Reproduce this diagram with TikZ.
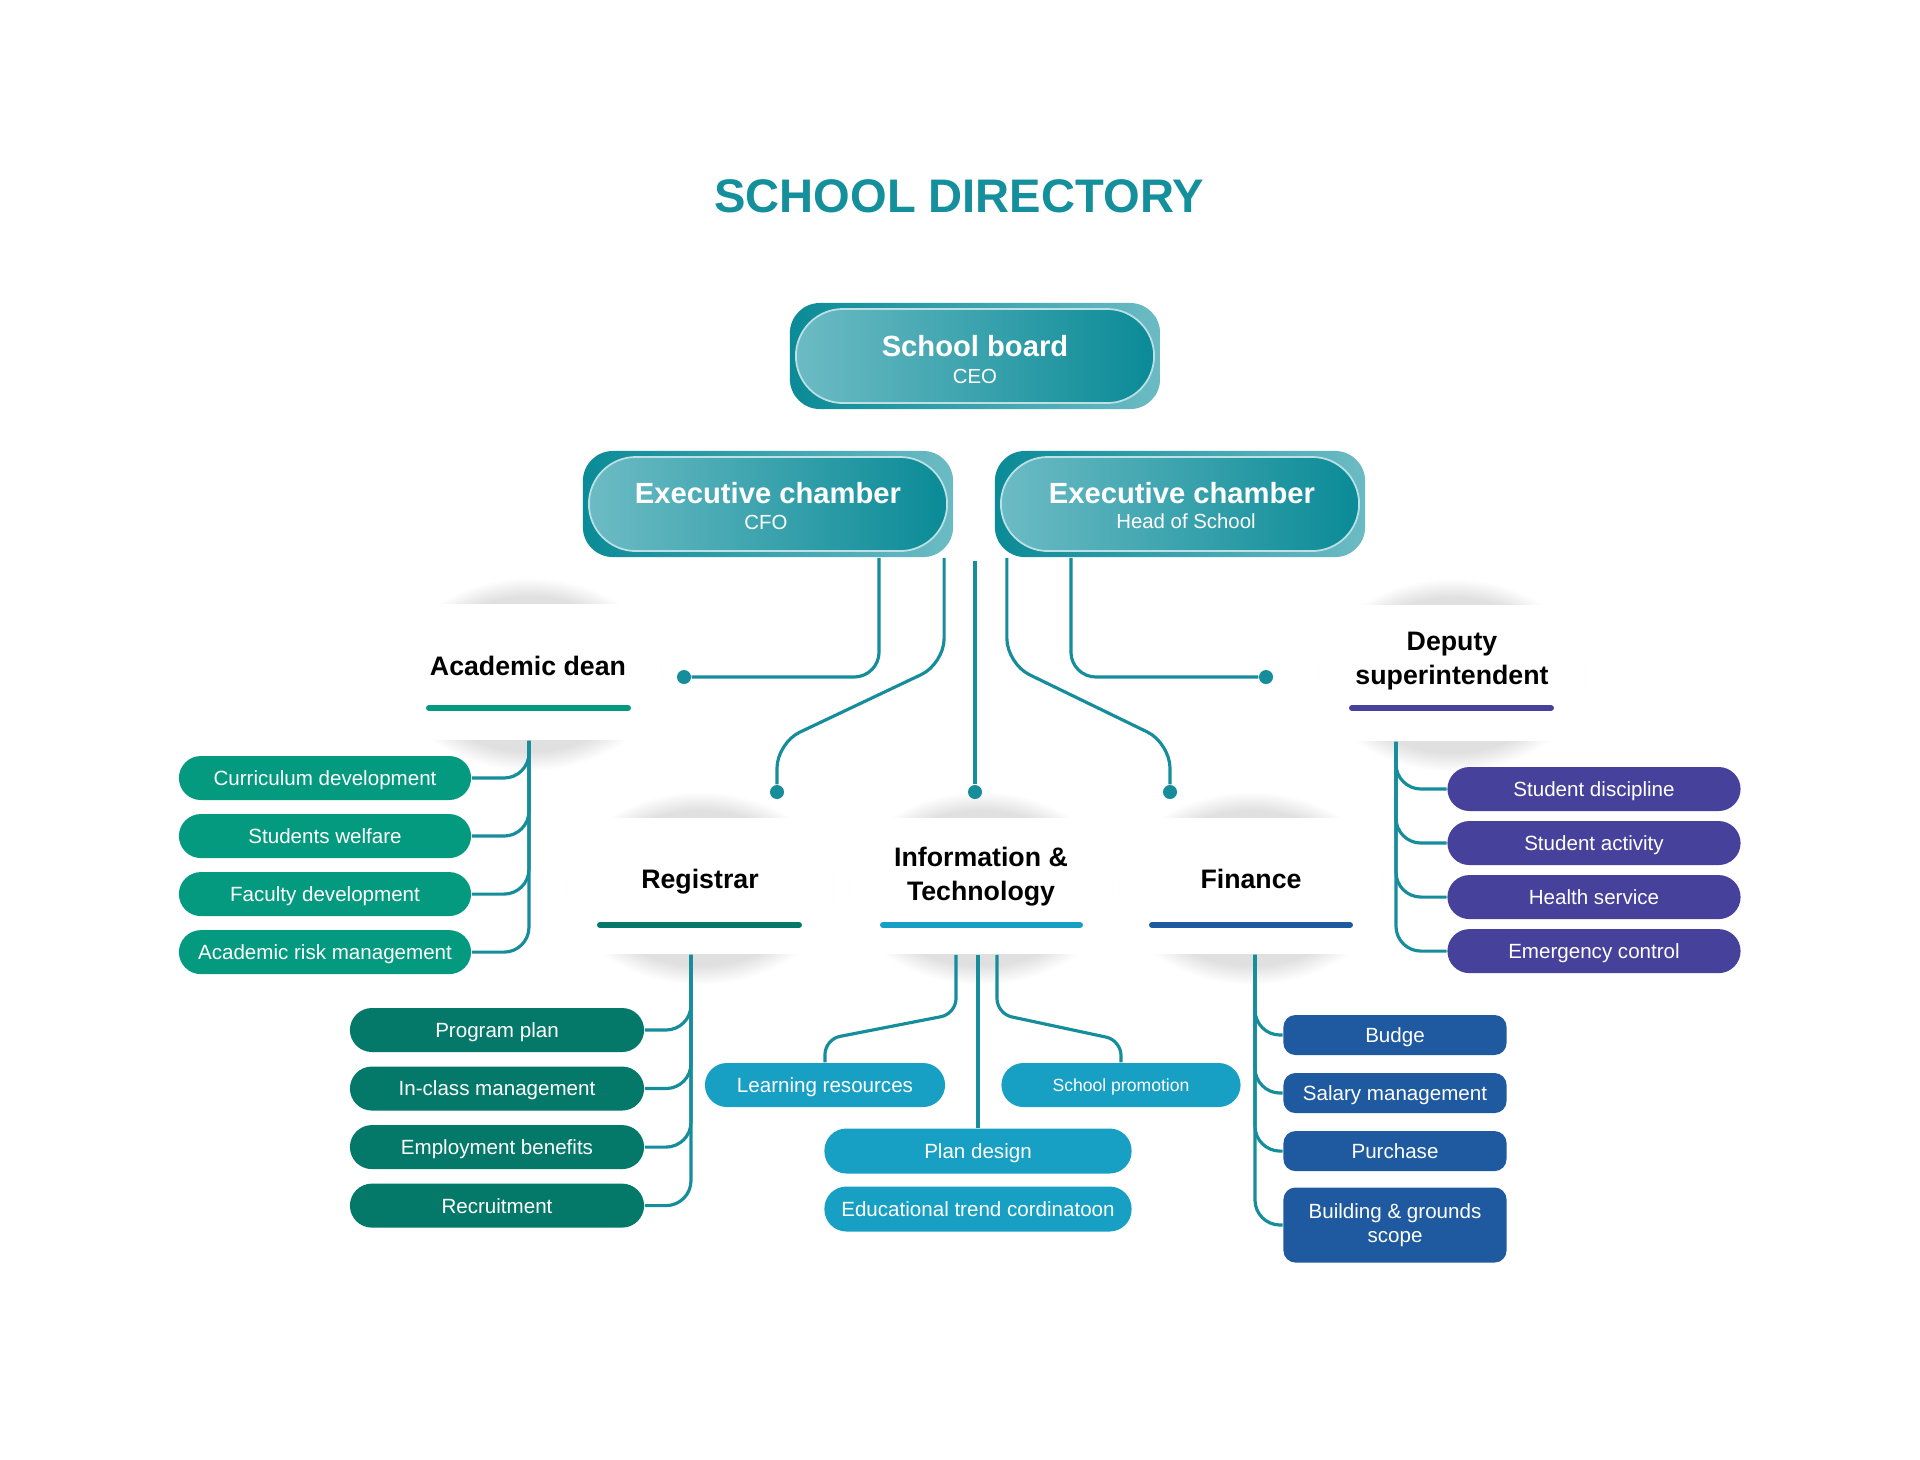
\documentclass[tikz,border=0pt]{standalone}
\usepackage{fontspec}
\setmainfont{Liberation Sans}
\usetikzlibrary{fadings}

\definecolor{headteal}{HTML}{148F9C}
\definecolor{darkteal}{HTML}{0A8B97}
\definecolor{lightteal}{HTML}{6CBBC4}
\definecolor{linkteal}{HTML}{168D9B}
\definecolor{acadgreen}{HTML}{049A7F}
\definecolor{reggreen}{HTML}{04796A}
\definecolor{infoblue}{HTML}{17A0C3}
\definecolor{finblue}{HTML}{1F5AA0}
\definecolor{deppurple}{HTML}{46419A}

\begin{document}
\begin{tikzpicture}[x=0.01cm, y=-0.01cm, node distance=0.58cm]
  \tikzstyle{chamber}=[rectangle, rounded corners=0.3cm, minimum width=3.7cm, minimum height=1.06cm, left color=darkteal, right color=lightteal, inner sep=0pt]
  \tikzstyle{chamberin}=[rectangle, rounded corners=0.47cm, minimum width=3.58cm, minimum height=0.94cm, left color=lightteal, right color=darkteal, draw=white!55!lightteal, line width=0.5pt, inner sep=0pt]
  \tikzstyle{chambertext}=[text=white, font=\fontsize{8.3}{10}\selectfont\bfseries, inner sep=0pt, text height=6pt, text depth=0pt]
  \tikzstyle{chambersub}=[text=white, font=\fontsize{5.8}{7}\selectfont, inner sep=0pt, text height=4.15pt, text depth=0pt]
  \tikzstyle{card}=[rectangle, fill=white, minimum width=2.63cm, minimum height=1.36cm, inner sep=0pt]
  \tikzstyle{cardshadow}=[fill=black!12, path fading=circle with fuzzy edge 20 percent]
  \tikzstyle{cardtext}=[font=\fontsize{7.6}{9.7}\selectfont\bfseries, align=center, inner sep=0pt]
  \tikzstyle{cardline}=[cardtext, text height=5.5pt, text depth=0pt]
  \tikzstyle{bar}=[line width=1.7pt, line cap=round]
  \tikzstyle{leaf}=[rectangle, rounded corners=0.22cm, minimum height=0.44cm, text=white, font=\fontsize{5.85}{6.8}\selectfont, inner sep=0pt, text height=4.2pt, text depth=0pt]
  \tikzstyle{finleaf}=[leaf, fill=finblue, rounded corners=0.12cm, minimum height=0.4cm, minimum width=2.23cm]
  \tikzstyle{link}=[draw=linkteal, line width=0.9pt, rounded corners=0.25cm]
  \tikzstyle{dot}=[circle, fill=linkteal, minimum size=0.14cm, inner sep=0pt]

  \fill [white] (0,0) rectangle (1920,1459);
  \useasboundingbox (0,0) rectangle (1920,1459);

  \node (title) [text=headteal, font=\fontsize{13.4}{16}\selectfont\bfseries, inner sep=0pt, text height=9.6pt, text depth=0pt] at (959,196) {SCHOOL DIRECTORY};

  \node (board) [chamber] at (975,356) {};
  \node (boardin) [chamberin] at (board.center) {};
  \node (boardtitle) [chambertext] at (975,346) {School board};
  \node (boardsub) [chambersub] at (975,376) {CEO};

  \node (cfo) [chamber] at (768,504) {};
  \node (cfoin) [chamberin] at (cfo.center) {};
  \node (cfotitle) [chambertext] at (768,493) {Executive chamber};
  \node (cfosub) [chambersub] at (766,522) {CFO};

  \node (head) [chamber] at (1180,504) {};
  \node (headin) [chamberin] at (head.center) {};
  \node (headtitle) [chambertext] at (1182,493) {Executive chamber};
  \node (headsub) [chambersub] at (1186,521) {Head of School};

  \fill [cardshadow] (396,578) rectangle (662,770);
  \fill [cardshadow] (1319,579) rectangle (1585,771);
  \fill [cardshadow] (567,792) rectangle (833,984);
  \fill [cardshadow] (848,792) rectangle (1114,984);
  \fill [cardshadow] (1118,792) rectangle (1384,984);

  \node (dean) [card] at (529,672) {};
  \node (deputy) [card] at (1452,673) {};
  \node (registrar) [card] at (700,886) {};
  \node (info) [card] at (981,886) {};
  \node (finance) [card] at (1251,886) {};

  \node (deanend) [dot] at (684,677) {};
  \node (regend) [dot] at (777,792) {};
  \node (infoend) [dot] at (975,792) {};
  \node (finend) [dot] at (1170,792) {};
  \node (depend) [dot] at (1266,677) {};
  \coordinate (gap) at (975,561);

  \draw [link] ([xshift=1.11cm]cfo.south) |- (deanend);
  \draw [link] ([xshift=1.76cm]cfo.south) -- ++(0,106) -- ([yshift=0.49cm]regend.center) -- (regend);
  \draw [link] (gap) -- (infoend);
  \draw [link] ([xshift=-1.73cm]head.south) -- ++(0,106) -- ([yshift=0.49cm]finend.center) -- (finend);
  \draw [link] ([xshift=-1.09cm]head.south) |- (depend);

  \node (deantext) [cardline] at (528,666) {Academic dean};
  \node (deputytext) [cardtext] at (1452,661) {Deputy\\superintendent};
  \node (registrartext) [cardline] at (700,879) {Registrar};
  \node (infotext) [cardtext] at (981,877) {Information \&\\Technology};
  \node (financetext) [cardline] at (1251,879) {Finance};

  \draw [bar, acadgreen] (429,708) -- (628,708);
  \draw [bar, deppurple] (1352,708) -- (1551,708);
  \draw [bar, reggreen] (600,925) -- (799,925);
  \draw [bar, infoblue] (883,925) -- (1080,925);
  \draw [bar, finblue] (1152,925) -- (1350,925);

  \node (curriculum) [leaf, fill=acadgreen, minimum width=2.92cm] at (325,778) {Curriculum development};
  \node (welfare) [leaf, fill=acadgreen, minimum width=2.92cm, below of=curriculum] {Students welfare};
  \node (faculty) [leaf, fill=acadgreen, minimum width=2.92cm, below of=welfare] {Faculty development};
  \node (risk) [leaf, fill=acadgreen, minimum width=2.92cm, below of=faculty] {Academic risk management};

  \node (discipline) [leaf, fill=deppurple, minimum width=2.93cm] at (1594,789) {Student discipline};
  \node (activity) [leaf, fill=deppurple, minimum width=2.93cm, below of=discipline, node distance=0.54cm] {Student activity};
  \node (health) [leaf, fill=deppurple, minimum width=2.93cm, below of=activity, node distance=0.54cm] {Health service};
  \node (emergency) [leaf, fill=deppurple, minimum width=2.93cm, below of=health, node distance=0.54cm] {Emergency control};

  \node (program) [leaf, fill=reggreen, minimum width=2.94cm] at (497,1030) {Program plan};
  \node (inclass) [leaf, fill=reggreen, minimum width=2.94cm, below of=program, node distance=0.585cm] {In-class management};
  \node (benefits) [leaf, fill=reggreen, minimum width=2.94cm, below of=inclass, node distance=0.585cm] {Employment benefits};
  \node (recruitment) [leaf, fill=reggreen, minimum width=2.94cm, below of=benefits, node distance=0.585cm] {Recruitment};

  \node (learning) [leaf, fill=infoblue, minimum width=2.4cm] at (825,1085) {Learning resources};
  \node (promotion) [leaf, fill=infoblue, minimum width=2.39cm, font=\fontsize{5}{6}\selectfont, text height=3.6pt] at (1121,1085) {School promotion};
  \node (plandesign) [leaf, fill=infoblue, minimum width=3.07cm, minimum height=0.45cm] at (978,1151) {Plan design};
  \node (trend) [leaf, fill=infoblue, minimum width=3.07cm, minimum height=0.45cm] at (978,1209) {Educational trend cordinatoon};

  \node (budge) [finleaf] at (1395,1035) {Budge};
  \node (salary) [finleaf, below of=budge] {Salary management};
  \node (purchase) [finleaf, below of=salary] {Purchase};
  \node (building) [finleaf, minimum height=0.75cm, align=center, text height=, text depth=] at (1395,1225) {Building \& grounds\\scope};

  \draw [link] (dean.south) |- (curriculum.east);
  \draw [link] (dean.south) |- (welfare.east);
  \draw [link] (dean.south) |- (faculty.east);
  \draw [link] (dean.south) |- (risk.east);

  \draw [link] ([xshift=-0.56cm]deputy.south) |- (discipline.west);
  \draw [link] ([xshift=-0.56cm]deputy.south) |- (activity.west);
  \draw [link] ([xshift=-0.56cm]deputy.south) |- (health.west);
  \draw [link] ([xshift=-0.56cm]deputy.south) |- (emergency.west);

  \draw [link] ([xshift=-0.09cm]registrar.south) |- (program.east);
  \draw [link] ([xshift=-0.09cm]registrar.south) |- (inclass.east);
  \draw [link] ([xshift=-0.09cm]registrar.south) |- (benefits.east);
  \draw [link] ([xshift=-0.09cm]registrar.south) |- (recruitment.east);

  \draw [link, rounded corners=0.15cm] ([xshift=-0.25cm]info.south) -- ++(0,59) -- ([yshift=0.23cm]learning.north) -- (learning.north);
  \draw [link] (info.south -| plandesign.north) -- (plandesign.north);
  \draw [link, rounded corners=0.15cm] ([xshift=0.16cm]info.south) -- ++(0,59) -- ([yshift=0.22cm]promotion.north) -- (promotion.north);

  \draw [link] ([xshift=0.04cm]finance.south) |- (budge.west);
  \draw [link] ([xshift=0.04cm]finance.south) |- (salary.west);
  \draw [link] ([xshift=0.04cm]finance.south) |- (purchase.west);
  \draw [link] ([xshift=0.04cm]finance.south) |- (building.west);
\end{tikzpicture}
\end{document}
